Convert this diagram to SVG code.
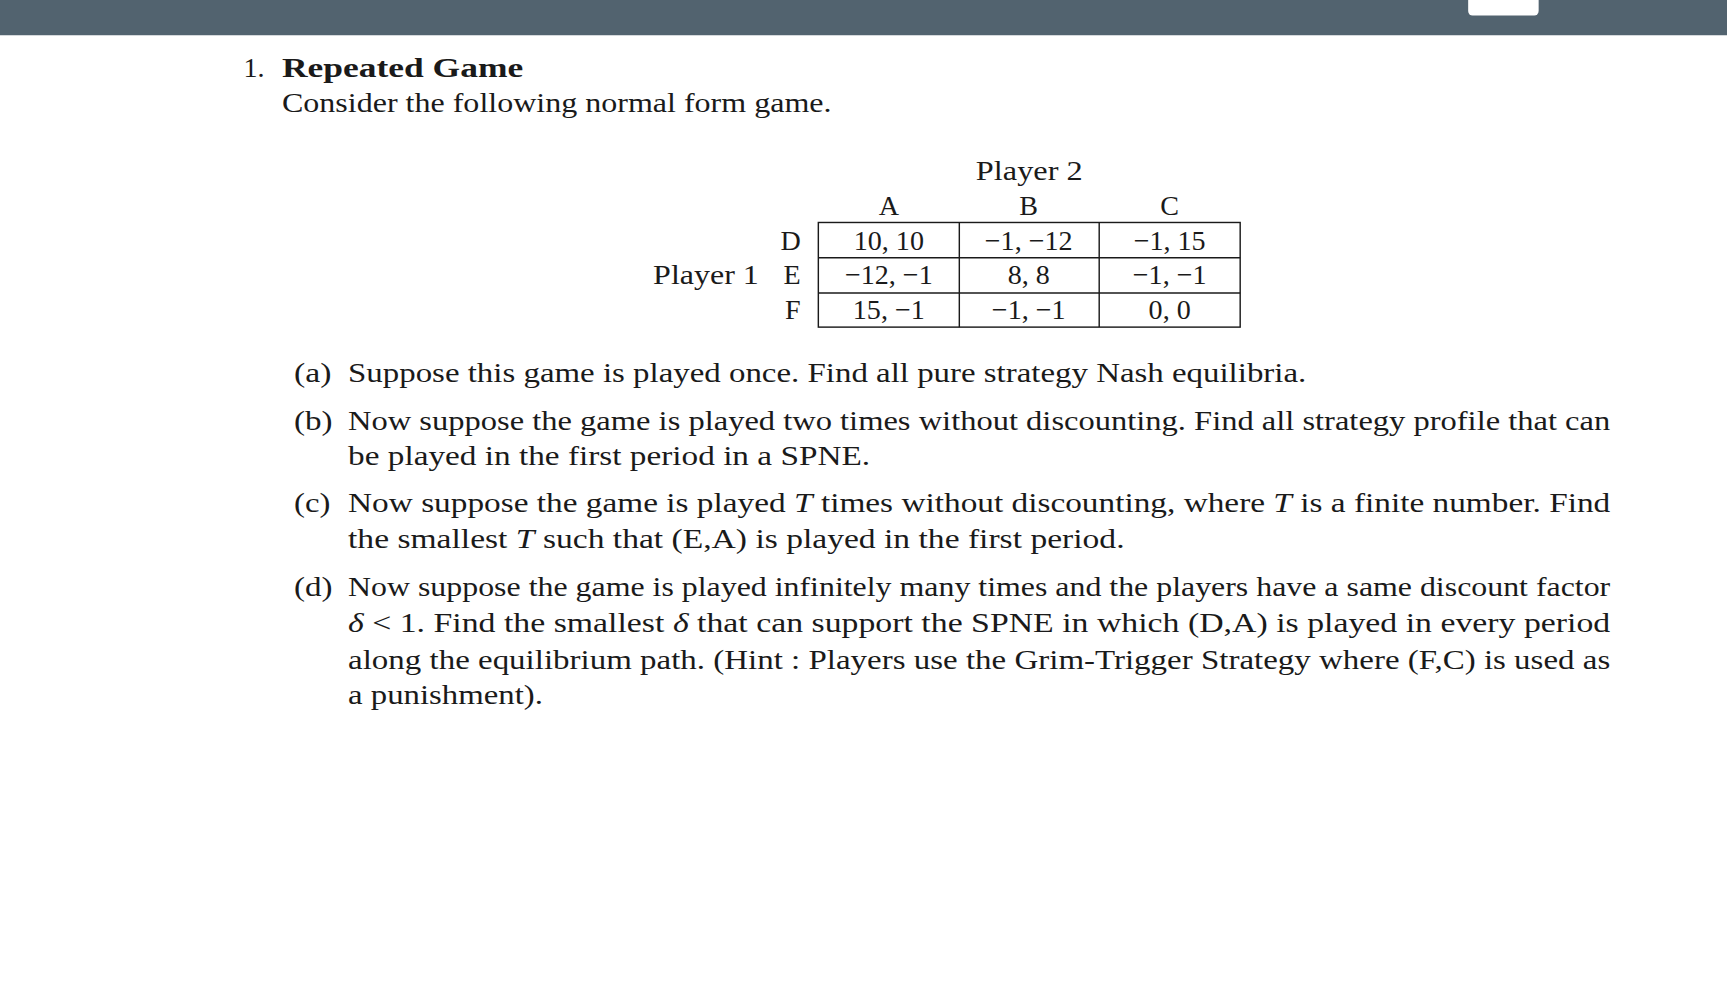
<svg xmlns="http://www.w3.org/2000/svg" width="1727" height="994" viewBox="0 0 1727 994">
<style>
text{font-family:"Liberation Serif","DejaVu Serif",serif;font-size:25.5px;fill:#1a1a1a}
.b{font-weight:bold}
.m{text-anchor:middle}
.e{text-anchor:end}
line{stroke:#1a1a1a;stroke-width:1.3}
</style>
<rect width="1727" height="994" fill="#fff"/>
<g transform="scale(1.1014)">
<g id="topbar">
<rect x="0" y="0" width="1568" height="32" fill="#52636f"/>
<rect x="1333" y="-6" width="64" height="20" rx="4" fill="#fff"/>
</g>
<g id="header">
<text x="221" y="70">1.</text>
<text x="256" y="70" class="b" textLength="219" lengthAdjust="spacingAndGlyphs">Repeated Game</text>
<text x="256" y="102" textLength="499" lengthAdjust="spacingAndGlyphs">Consider the following normal form game.</text>
</g>
<g id="table">
<text x="886" y="163" textLength="97" lengthAdjust="spacingAndGlyphs">Player 2</text>
<text x="807" y="195" class="m">A</text>
<text x="934" y="195" class="m">B</text>
<text x="1062" y="195" class="m">C</text>
<text x="727" y="227" class="e">D</text>
<text x="593" y="258" textLength="96" lengthAdjust="spacingAndGlyphs">Player 1</text>
<text x="727" y="258" class="e">E</text>
<text x="727" y="290" class="e">F</text>
<rect x="743" y="202" width="383" height="95" fill="none" stroke="#1a1a1a" stroke-width="1.3"/>
<line x1="871" y1="202" x2="871" y2="297"/>
<line x1="998" y1="202" x2="998" y2="297"/>
<line x1="743" y1="234" x2="1126" y2="234"/>
<line x1="743" y1="266" x2="1126" y2="266"/>
<text x="807" y="227" class="m">10, 10</text>
<text x="934" y="227" class="m">−1, −12</text>
<text x="1062" y="227" class="m">−1, 15</text>
<text x="807" y="258" class="m">−12, −1</text>
<text x="934" y="258" class="m">8, 8</text>
<text x="1062" y="258" class="m">−1, −1</text>
<text x="807" y="290" class="m">15, −1</text>
<text x="934" y="290" class="m">−1, −1</text>
<text x="1062" y="290" class="m">0, 0</text>
</g>
<g id="questions">
<text x="267" y="347" textLength="34" lengthAdjust="spacingAndGlyphs">(a)</text>
<text x="316" y="347" textLength="870" lengthAdjust="spacingAndGlyphs">Suppose this game is played once. Find all pure strategy Nash equilibria.</text>
<text x="267" y="390" textLength="35" lengthAdjust="spacingAndGlyphs">(b)</text>
<text x="316" y="390" textLength="1146" lengthAdjust="spacingAndGlyphs">Now suppose the game is played two times without discounting. Find all strategy profile that can</text>
<text x="316" y="422" textLength="474" lengthAdjust="spacingAndGlyphs">be played in the first period in a SPNE.</text>
<text x="267" y="465" textLength="33" lengthAdjust="spacingAndGlyphs">(c)</text>
<text x="316" y="465" textLength="1146" lengthAdjust="spacingAndGlyphs">Now suppose the game is played <tspan font-style="italic">T</tspan> times without discounting, where <tspan font-style="italic">T</tspan> is a finite number. Find</text>
<text x="316" y="498" textLength="705" lengthAdjust="spacingAndGlyphs">the smallest <tspan font-style="italic">T</tspan> such that (E,A) is played in the first period.</text>
<text x="267" y="541" textLength="35" lengthAdjust="spacingAndGlyphs">(d)</text>
<text x="316" y="541" textLength="1146" lengthAdjust="spacingAndGlyphs">Now suppose the game is played infinitely many times and the players have a same discount factor</text>
<text x="316" y="574" textLength="1146" lengthAdjust="spacingAndGlyphs"><tspan font-style="italic">δ</tspan> &lt; 1. Find the smallest <tspan font-style="italic">δ</tspan> that can support the SPNE in which (D,A) is played in every period</text>
<text x="316" y="607" textLength="1146" lengthAdjust="spacingAndGlyphs">along the equilibrium path. (Hint : Players use the Grim-Trigger Strategy where (F,C) is used as</text>
<text x="316" y="639" textLength="177" lengthAdjust="spacingAndGlyphs">a punishment).</text>
</g>
</g>
</svg>
